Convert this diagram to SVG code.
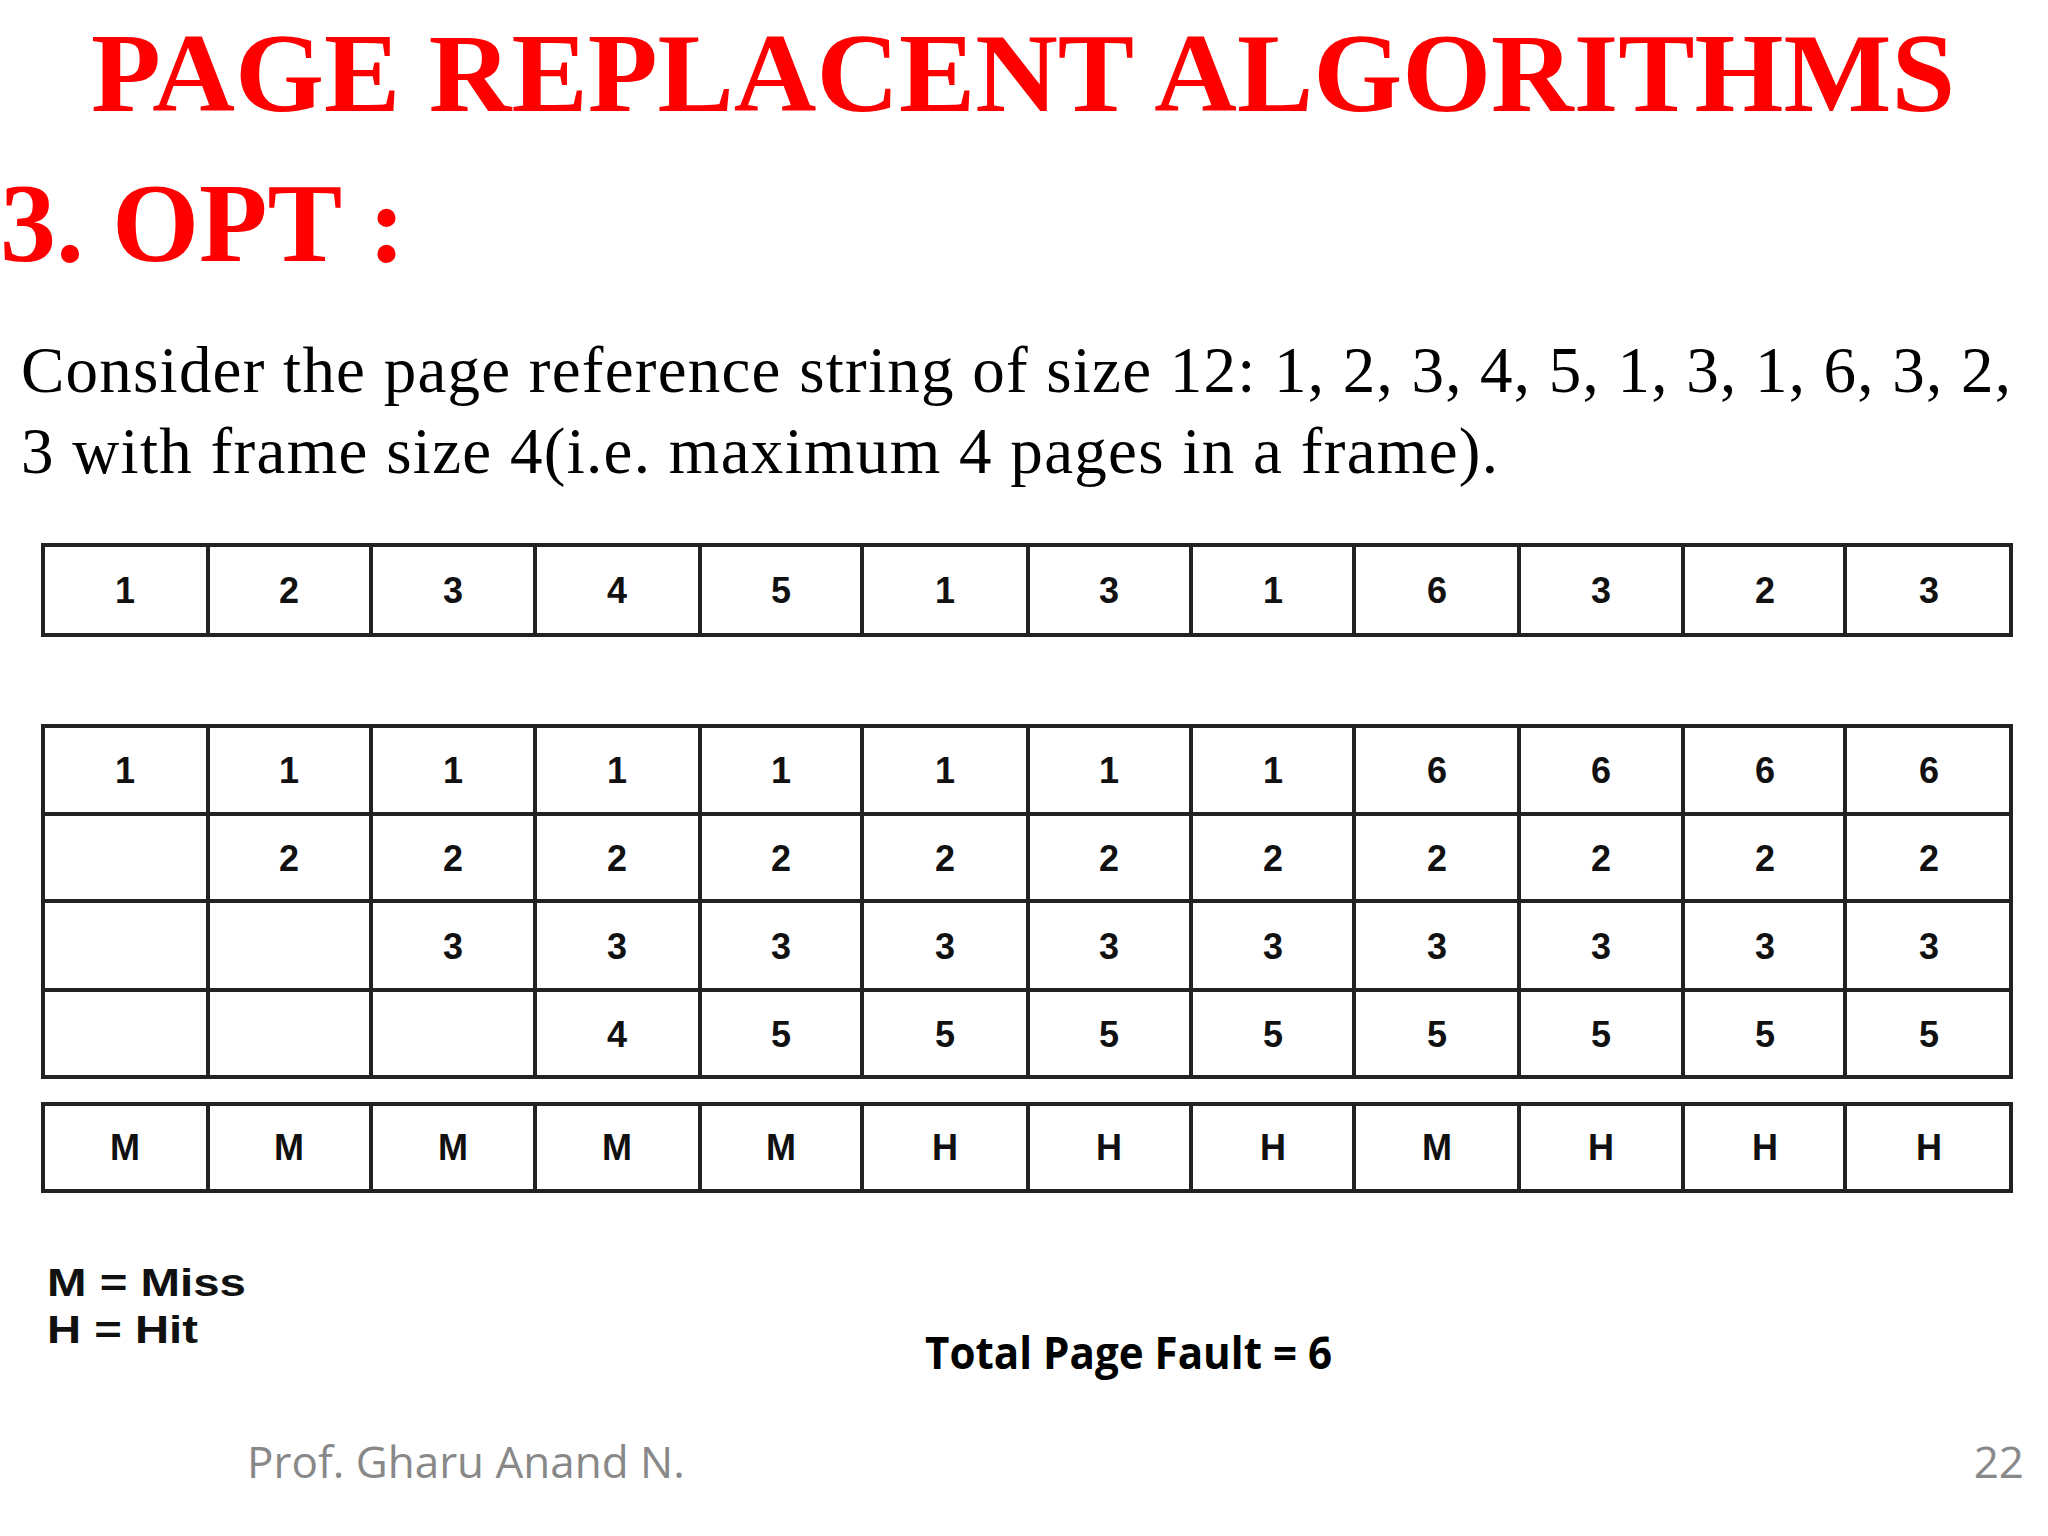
<svg xmlns="http://www.w3.org/2000/svg" width="2048" height="1536" viewBox="0 0 2048 1536">
<style>
.h{font-family:"Liberation Serif",serif;font-weight:bold;fill:#ff0000}
.b{font-family:"Liberation Serif",serif;font-size:65px;fill:#000}
.c{font-family:"Liberation Sans",Arial,sans-serif;font-weight:bold;font-size:36px;fill:#111;text-anchor:middle}
.g{fill:none;stroke:#222;stroke-width:4}
.l{font-family:"Liberation Sans",Arial,sans-serif;font-weight:bold;font-size:39px;fill:#111}
.f{font-family:"Open Sans","Liberation Sans",sans-serif;font-size:44px;fill:#888}
</style>
<rect width="2048" height="1536" fill="#fff"/>
<text class="h" x="1023" y="111" font-size="112" text-anchor="middle" textLength="1864" lengthAdjust="spacingAndGlyphs">PAGE REPLACENT ALGORITHMS</text>
<text class="h" x="0" y="261" font-size="112">3. OPT :</text>
<text class="b" x="21" y="392" textLength="1990">Consider the page reference string of size 12: 1, 2, 3, 4, 5, 1, 3, 1, 6, 3, 2,</text>
<text class="b" x="21" y="473" textLength="1477">3 with frame size 4(i.e. maximum 4 pages in a frame).</text>
<g id="table-ref">
<rect class="g" x="43" y="545" width="1968" height="90"/>
<path class="g" d="M208 545V635M371 545V635M535 545V635M700 545V635M862 545V635M1028 545V635M1191 545V635M1354 545V635M1519 545V635M1683 545V635M1845 545V635"/>
<g class="c"><text x="125" y="603">1</text><text x="289" y="603">2</text><text x="453" y="603">3</text><text x="617" y="603">4</text><text x="781" y="603">5</text><text x="945" y="603">1</text><text x="1109" y="603">3</text><text x="1273" y="603">1</text><text x="1437" y="603">6</text><text x="1601" y="603">3</text><text x="1765" y="603">2</text><text x="1929" y="603">3</text></g>
</g>
<g id="table-frames">
<rect class="g" x="43" y="726" width="1968" height="351"/>
<path class="g" d="M43 814H2011M43 901H2011M43 990H2011M208 726V1077M371 726V1077M535 726V1077M700 726V1077M862 726V1077M1028 726V1077M1191 726V1077M1354 726V1077M1519 726V1077M1683 726V1077M1845 726V1077"/>
<g class="c">
<text x="125" y="783">1</text><text x="289" y="783">1</text><text x="453" y="783">1</text><text x="617" y="783">1</text><text x="781" y="783">1</text><text x="945" y="783">1</text><text x="1109" y="783">1</text><text x="1273" y="783">1</text><text x="1437" y="783">6</text><text x="1601" y="783">6</text><text x="1765" y="783">6</text><text x="1929" y="783">6</text>
<text x="289" y="871">2</text><text x="453" y="871">2</text><text x="617" y="871">2</text><text x="781" y="871">2</text><text x="945" y="871">2</text><text x="1109" y="871">2</text><text x="1273" y="871">2</text><text x="1437" y="871">2</text><text x="1601" y="871">2</text><text x="1765" y="871">2</text><text x="1929" y="871">2</text>
<text x="453" y="959">3</text><text x="617" y="959">3</text><text x="781" y="959">3</text><text x="945" y="959">3</text><text x="1109" y="959">3</text><text x="1273" y="959">3</text><text x="1437" y="959">3</text><text x="1601" y="959">3</text><text x="1765" y="959">3</text><text x="1929" y="959">3</text>
<text x="617" y="1047">4</text><text x="781" y="1047">5</text><text x="945" y="1047">5</text><text x="1109" y="1047">5</text><text x="1273" y="1047">5</text><text x="1437" y="1047">5</text><text x="1601" y="1047">5</text><text x="1765" y="1047">5</text><text x="1929" y="1047">5</text>
</g>
</g>
<g id="table-hm">
<rect class="g" x="43" y="1104" width="1968" height="87"/>
<path class="g" d="M208 1104V1191M371 1104V1191M535 1104V1191M700 1104V1191M862 1104V1191M1028 1104V1191M1191 1104V1191M1354 1104V1191M1519 1104V1191M1683 1104V1191M1845 1104V1191"/>
<g class="c"><text x="125" y="1160">M</text><text x="289" y="1160">M</text><text x="453" y="1160">M</text><text x="617" y="1160">M</text><text x="781" y="1160">M</text><text x="945" y="1160">H</text><text x="1109" y="1160">H</text><text x="1273" y="1160">H</text><text x="1437" y="1160">M</text><text x="1601" y="1160">H</text><text x="1765" y="1160">H</text><text x="1929" y="1160">H</text></g>
</g>
<text class="l" x="47" y="1296" textLength="199" lengthAdjust="spacingAndGlyphs">M = Miss</text>
<text class="l" x="47" y="1343" textLength="151" lengthAdjust="spacingAndGlyphs">H = Hit</text>
<text x="925" y="1369" font-family="Open Sans,Liberation Sans,sans-serif" font-weight="bold" font-size="44" fill="#000" textLength="407" lengthAdjust="spacingAndGlyphs">Total Page Fault = 6</text>
<text class="f" x="247" y="1478">Prof. Gharu Anand N.</text>
<text class="f" x="2024" y="1478" text-anchor="end">22</text>
</svg>
